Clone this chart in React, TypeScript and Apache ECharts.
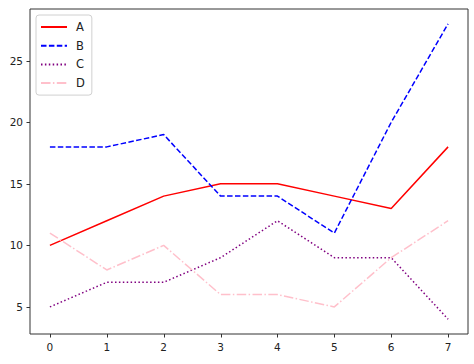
import React, { useEffect, useRef } from "react";
import * as echarts from "echarts";

const xCats = [0, 1, 2, 3, 4, 5, 6, 7];
const seriesA = [10, 12, 14, 15, 15, 14, 13, 18];
const seriesB = [18, 18, 19, 14, 14, 11, 20, 28];
const seriesC = [5, 7, 7, 9, 12, 9, 9, 4];
const seriesD = [11, 8, 10, 6, 6, 5, 9, 12];
const yTicks = [5, 10, 15, 20, 25];

export default function App() {
  const ref = useRef<HTMLDivElement>(null);
  useEffect(() => {
    const chart = echarts.init(ref.current!, null, { renderer: "svg" });
    const font = "DejaVu Sans";
    const mk = (name: string, data: number[], color: string, type: any) => ({
      name,
      type: "line",
      data: data.map((v, i) => [xCats[i], v]),
      symbol: "none",
      lineStyle: { color, width: 1.5, type, cap: "butt" },
      itemStyle: { color },
    });
    chart.setOption({
      animation: false,
      textStyle: { fontFamily: font },
      grid: {
        left: 30,
        right: 6,
        top: 9,
        bottom: 30,
        show: true,
        borderColor: "#333",
        borderWidth: 1,
        backgroundColor: "#fff",
      },
      legend: {
        orient: "vertical",
        left: 36,
        top: 15,
        itemWidth: 26,
        itemHeight: 12,
        itemGap: 6.7,
        padding: [6, 7, 6, 4],
        backgroundColor: "rgba(255,255,255,0.8)",
        borderColor: "#d0d0d0",
        borderWidth: 1,
        borderRadius: 3,
        itemStyle: { opacity: 0 },
        textStyle: { fontFamily: font, fontSize: 11.5, color: "#222", padding: [0, 0, 0, 4] },
        data: ["A", "B", "C", "D"],
      },
      xAxis: {
        type: "value",
        min: -0.35,
        max: 7.35,
        axisLine: { show: false },
        splitLine: { show: false },
        axisTick: { show: false },
        axisLabel: { fontFamily: font, fontSize: 10.5, color: "#222", margin: 7, customValues: xCats },
      },
      yAxis: {
        type: "value",
        min: 2.8,
        max: 29.2,
        axisLine: { show: false },
        splitLine: { show: false },
        axisTick: { show: false },
        axisLabel: {
          fontFamily: font,
          fontSize: 10.5,
          color: "#222",
          margin: 7,
          align: "right",
          customValues: yTicks,
        },
      },
      series: [
        mk("A", seriesA, "#ff0000", "solid"),
        mk("B", seriesB, "#0000ff", [5.5, 2.4]),
        mk("C", seriesC, "#800080", [1.5, 2.4]),
        mk("D", seriesD, "#ffc0cb", [9.5, 2.4, 1.5, 2.4]),
      ],
    });
    const rect = (chart as any).getModel().getComponent("grid", 0).coordinateSystem.getRect();
    const bottom = rect.y + rect.height;
    const left = rect.x;
    const ticks: any[] = [];
    xCats.forEach((v) => {
      const px = Math.round(chart.convertToPixel({ xAxisIndex: 0 }, v) as number) + 0.5;
      ticks.push({
        type: "line",
        shape: { x1: px, y1: bottom, x2: px, y2: bottom + 3.5 },
        style: { stroke: "#333", lineWidth: 1 },
        silent: true,
      });
    });
    yTicks.forEach((v) => {
      const py = Math.round(chart.convertToPixel({ yAxisIndex: 0 }, v) as number) + 0.5;
      ticks.push({
        type: "line",
        shape: { x1: left - 3.5, y1: py, x2: left, y2: py },
        style: { stroke: "#333", lineWidth: 1 },
        silent: true,
      });
    });
    chart.setOption({ graphic: ticks });
    return () => chart.dispose();
  }, []);
  return <div ref={ref} style={{ width: 474, height: 364, position: "absolute", left: 0, top: 0 }} />;
}
